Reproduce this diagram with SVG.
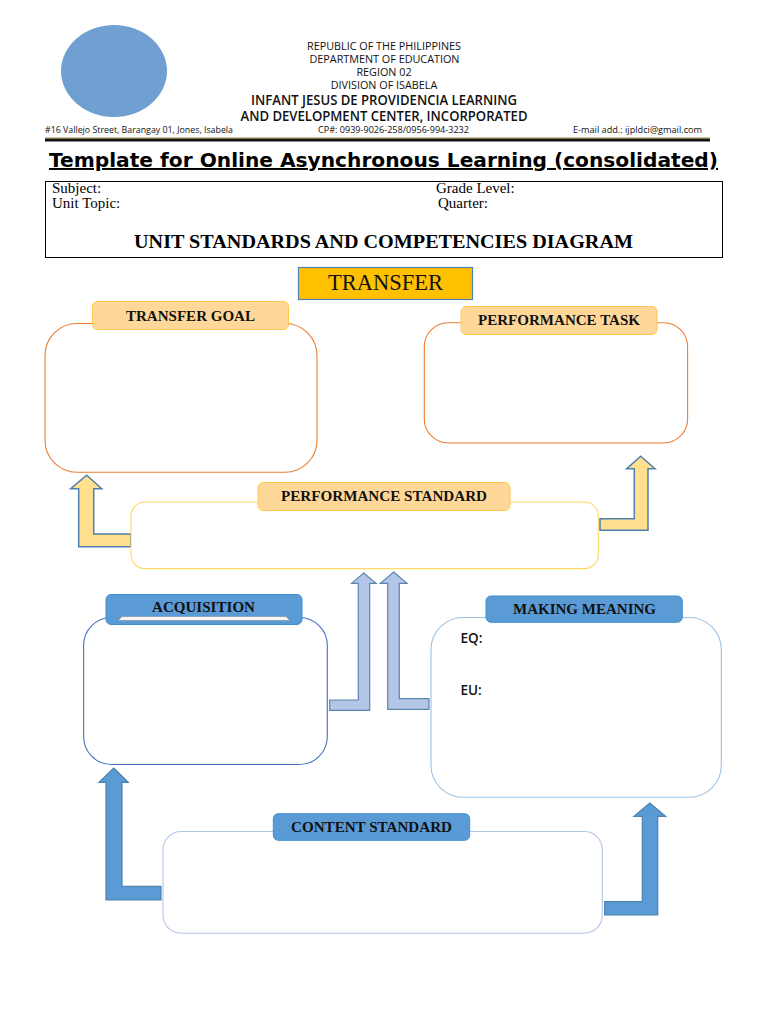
<svg xmlns="http://www.w3.org/2000/svg" width="768" height="1024" viewBox="0 0 768 1024">
<style>
.h{font-family:"Open Sans","Noto Sans",sans-serif;fill:#111;text-anchor:middle}
.s{font-size:10.800px}
.b{font-size:14px;font-weight:600}
.f{font-size:9px}
.t{font-family:"Liberation Serif",serif;fill:#000}
.i{font-size:15px}
.l{font-family:"Liberation Serif",serif;font-weight:bold;font-size:14px;fill:#111;text-anchor:middle}
.box{fill:#fff;stroke-width:1.100}
.lo{fill:#ffd899;stroke:#ffc84a;stroke-width:1}
.lb{fill:#5b9bd5;stroke:#3f8fd0;stroke-width:1}
.ay{fill:#ffe08f;stroke:#4f7fae;stroke-width:1.500}
.ap{fill:#b4c6e7;stroke:#5a85ad;stroke-width:1.200}
.ab{fill:#5b9bd5;stroke:#4f81ad;stroke-width:1.200}
</style>
<rect width="768" height="1024" fill="#fff"/>
<g id="letterhead">
<ellipse cx="114" cy="71" rx="53" ry="46" fill="#709fd1"/>
<text class="h s" x="384" y="50">REPUBLIC OF THE PHILIPPINES</text>
<text class="h s" x="384.500" y="63">DEPARTMENT OF EDUCATION</text>
<text class="h s" x="384" y="76">REGION 02</text>
<text class="h s" x="384" y="89">DIVISION OF ISABELA</text>
<text class="h b" x="384" y="105" textLength="266" lengthAdjust="spacingAndGlyphs">INFANT JESUS DE PROVIDENCIA LEARNING</text>
<text class="h b" x="384" y="121" textLength="287" lengthAdjust="spacingAndGlyphs">AND DEVELOPMENT CENTER, INCORPORATED</text>
<text class="h f" x="45" y="133" style="text-anchor:start" textLength="188" lengthAdjust="spacingAndGlyphs">#16 Vallejo Street, Barangay 01, Jones, Isabela</text>
<text class="h f" x="318" y="133" style="text-anchor:start" textLength="151" lengthAdjust="spacingAndGlyphs">CP#:  0939-9026-258/0956-994-3232</text>
<text class="h f" x="573" y="133" style="text-anchor:start" textLength="129" lengthAdjust="spacingAndGlyphs">E-mail add.:  ijpldci@gmail.com</text>
<rect x="45" y="137.500" width="665" height="1.500" fill="#8a7a4a"/>
<rect x="45" y="139" width="665" height="2.500" fill="#111"/>
</g>
<text id="title" x="49" y="167" font-family="DejaVu Sans" font-weight="bold" font-size="19.500" text-decoration="underline" fill="#000" textLength="669" lengthAdjust="spacingAndGlyphs">Template for Online Asynchronous Learning (consolidated)</text>
<g id="info">
<rect x="45.500" y="181.500" width="677" height="76" fill="#fff" stroke="#000" stroke-width="1"/>
<text class="t i" x="52" y="193">Subject:</text>
<text class="t i" x="52" y="208">Unit Topic:</text>
<text class="t i" x="436" y="193">Grade Level:</text>
<text class="t i" x="438" y="208">Quarter:</text>
<text class="t" x="134" y="248" font-size="18.500" font-weight="bold" textLength="499" lengthAdjust="spacingAndGlyphs">UNIT STANDARDS AND COMPETENCIES DIAGRAM</text>
</g>
<g id="connectors">
<path class="ay" d="M86.700 475.300L101.700 488.700H93.700V534H130.700V546.700H78.700V488.700H70.700Z"/>
<path class="ay" d="M640.700 456.300L655 468.700H648V530.300H600V518.700H634.300V468.700H626.700Z"/>
<path class="ap" d="M363.700 573L376 583.300H369.700V710.300H329.700V700H358.300V583.300H351.700Z"/>
<path class="ap" d="M393.700 572L407 583.300H399.300V698.700H429V709.300H387.700V583.300H380.300Z"/>
<path class="ab" d="M113.700 768L128.300 782.300H122V886.300H161V900H106V782.300H99Z"/>
<path class="ab" d="M649.700 803L665.700 816.300H657.700V915H604.700V901.700H642.300V816.300H634Z"/>
</g>
<g id="transfer">
<rect x="298.500" y="267.500" width="174" height="32" fill="#ffc000" stroke="#4f81bd" stroke-width="1.200"/>
<text x="385.500" y="290" font-family="Liberation Serif" font-size="22.500" text-anchor="middle" fill="#111">TRANSFER</text>
</g>
<g id="transfer-goal">
<rect class="box" x="45" y="323.500" width="272" height="148.700" rx="32" stroke="#ed7d31"/>
<rect class="lo" x="92.500" y="301.500" width="196" height="28" rx="5"/>
<text class="l" x="190.500" y="320.500" textLength="129" lengthAdjust="spacingAndGlyphs">TRANSFER GOAL</text>
</g>
<g id="performance-task">
<rect class="box" x="424.300" y="322.700" width="263.300" height="120.300" rx="24" stroke="#ed7d31"/>
<rect class="lo" x="461" y="306.500" width="196" height="28" rx="5"/>
<text class="l" x="559" y="325" textLength="162" lengthAdjust="spacingAndGlyphs">PERFORMANCE TASK</text>
</g>
<g id="performance-standard">
<rect class="box" x="131" y="502" width="467.300" height="66.600" rx="14" stroke="#ffd966"/>
<rect class="lo" x="258" y="482.500" width="252" height="28" rx="5"/>
<text class="l" x="384" y="501" textLength="206" lengthAdjust="spacingAndGlyphs">PERFORMANCE STANDARD</text>
</g>
<g id="acquisition">
<rect class="box" x="83.600" y="617.500" width="243.700" height="147" rx="28" stroke="#4472c4"/>
<rect class="lb" x="106" y="594.500" width="196" height="30" rx="5"/>
<path d="M119 620L122 617H286L289 620Z" fill="#fff" stroke="#f4c7a8" stroke-width=".6"/>
<text class="l" x="203.500" y="612" textLength="103" lengthAdjust="spacingAndGlyphs">ACQUISITION</text>
</g>
<g id="making-meaning">
<rect class="box" x="431" y="617.500" width="290.300" height="179.700" rx="32" stroke="#9dc3e6"/>
<rect class="lb" x="486" y="596" width="196.300" height="26.300" rx="5"/>
<text class="l" x="584.500" y="614" textLength="143" lengthAdjust="spacingAndGlyphs">MAKING MEANING</text>
<text x="460.500" y="643" font-family="Open Sans" font-weight="600" font-size="13.500" fill="#111">EQ:</text>
<text x="460.500" y="695" font-family="Open Sans" font-weight="600" font-size="13.500" fill="#111">EU:</text>
</g>
<g id="content-standard">
<rect class="box" x="163" y="831.500" width="439.300" height="101.700" rx="18" stroke="#b4c7e7"/>
<rect class="lb" x="273.300" y="813.700" width="196.400" height="26.600" rx="5"/>
<text class="l" x="371.500" y="832" textLength="161" lengthAdjust="spacingAndGlyphs">CONTENT STANDARD</text>
</g>
</svg>
